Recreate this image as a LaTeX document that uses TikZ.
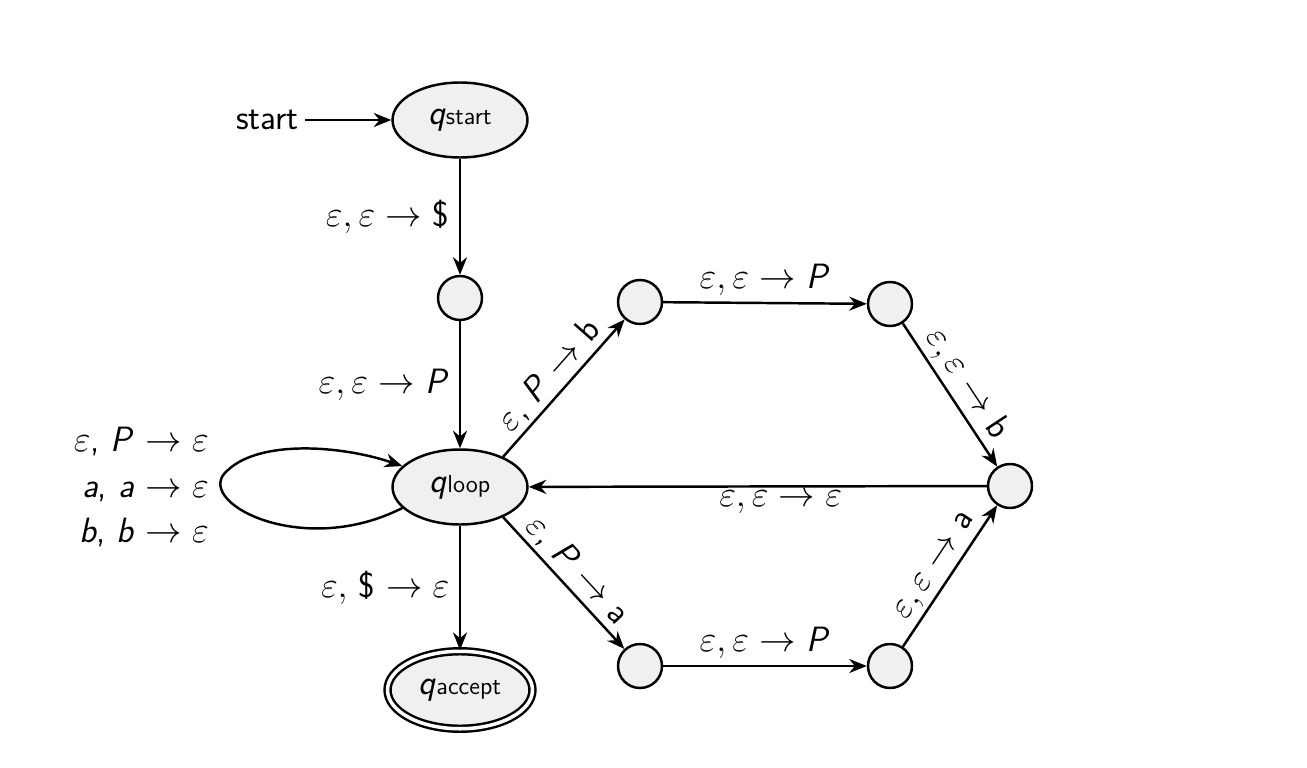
\documentclass[tikz,border=0pt]{standalone}
\usetikzlibrary{arrows.meta,shapes.geometric}
\begin{document}
\begin{tikzpicture}[x=0.02cm,y=-0.02cm,
  every node/.style={font=\fontsize{20}{24}\selectfont\sffamily},
  st/.style={draw,line width=1.4pt,fill=gray!12,ellipse,minimum width=2.7cm,minimum height=1.5cm,inner sep=0pt},
  sm/.style={draw,line width=1.4pt,fill=gray!12,circle,minimum size=0.88cm,inner sep=0pt},
  ed/.style={-{Stealth[length=10pt,width=8pt]},line width=1.4pt},
  lb/.style={font=\fontsize{20}{24}\selectfont\sffamily}]
\useasboundingbox (0,0) rectangle (1307,767);
\node[st] (qs) at (460,120) {\textsl{q}{\fontsize{14}{16}\selectfont start}};
\node[sm] (c1) at (460,298) {};
\node[st] (ql) at (460,487) {\textsl{q}{\fontsize{14}{16}\selectfont loop}};
\node[st,double,double distance=2pt,minimum width=2.9cm,minimum height=1.55cm] (qa) at (460,690) {\textsl{q}{\fontsize{14}{16}\selectfont accept}};
\node[sm] (u1) at (640,302) {};
\node[sm] (u2) at (890,304) {};
\node[sm] (r) at (1010,486) {};
\node[sm] (d1) at (640,666) {};
\node[sm] (d2) at (890,666) {};
\node[anchor=east] (sl) at (305,120) {start};
\draw[ed] (sl) -- (qs);
\draw[ed] (qs) -- node[left,lb,xshift=-2pt] {$\varepsilon,\varepsilon\to$ \$} (c1);
\draw[ed] (c1) -- node[left,lb,xshift=-2pt] {$\varepsilon,\varepsilon\to$ \textsl{P}} (ql);
\draw[ed] (ql) -- node[left,lb,xshift=-2pt] {$\varepsilon,$ \$ $\to\varepsilon$} (qa);
\draw[ed] (ql.35) -- node[above,sloped,lb,inner sep=2pt] {$\varepsilon$, \textsl{P} $\to$ b} (u1);
\draw[ed] (u1) -- node[above,lb] {$\varepsilon,\varepsilon\to$ \textsl{P}} (u2);
\draw[ed] (u2) -- node[above,sloped,lb,inner sep=2pt] {$\varepsilon,\varepsilon\to$ b} (r);
\draw[ed] (r) -- node[below,lb,pos=0.45,inner sep=2pt] {$\varepsilon,\varepsilon\to\varepsilon$} (ql);
\draw[ed] (ql.-35) -- node[above,sloped,lb,inner sep=2pt] {$\varepsilon$, \textsl{P} $\to$ a} (d1);
\draw[ed] (d1) -- node[above,lb] {$\varepsilon,\varepsilon\to$ \textsl{P}} (d2);
\draw[ed] (d2) -- node[above,sloped,lb,inner sep=2pt] {$\varepsilon,\varepsilon\to$ a} (r);
\draw[ed] (ql.200) .. controls (300,560) and (190,500) .. (228,470) .. controls (260,440) and (340,445) .. (ql.160);
\node[align=right,anchor=east,lb] (ll) at (215,487) {$\varepsilon$, \textsl{P} $\to\varepsilon$\\[2pt] \textsl{a}, \textsl{a} $\to\varepsilon$\\[2pt] \textsl{b}, \textsl{b} $\to\varepsilon$};
\end{tikzpicture}
\end{document}
